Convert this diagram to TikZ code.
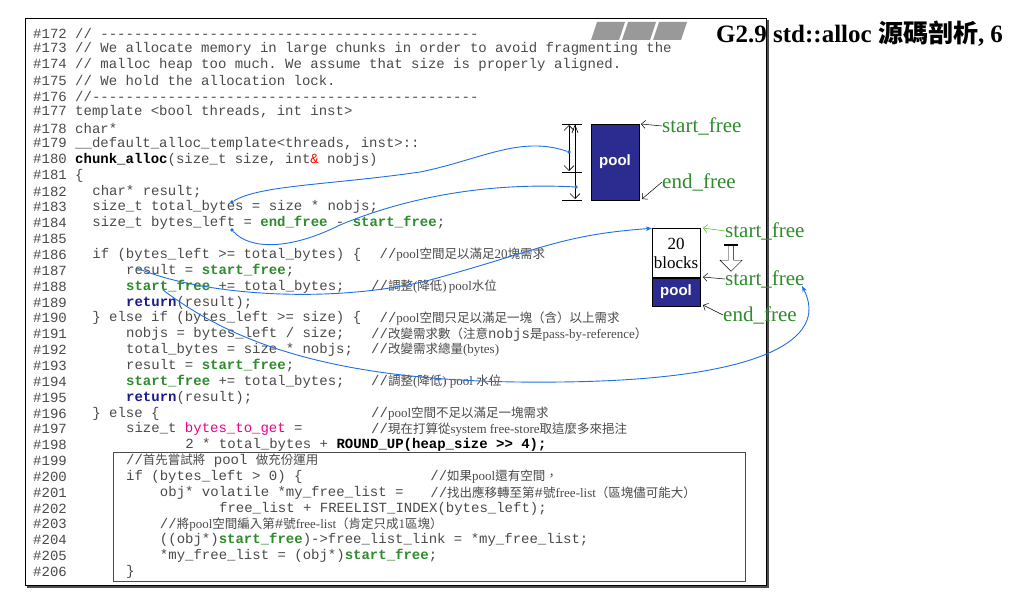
\documentclass[tikz,border=0pt]{standalone}
\usepackage{fontspec}
\setmainfont{Liberation Serif}
\setmonofont{Liberation Mono}
\setsansfont{Liberation Sans}
\newfontfamily\cjkf{Noto Sans CJK TC}
\usetikzlibrary{arrows.meta,shapes.arrows}
\definecolor{cgray}{HTML}{4A4A4A}
\definecolor{cgreen}{HTML}{2E8B2E}
\definecolor{cnavy}{HTML}{2B2B90}
\definecolor{cblue}{HTML}{1E6FE0}
\definecolor{ckw}{HTML}{1A1A8A}
\newcommand\gr[1]{\textcolor{cgreen}{\bfseries #1}}
\newcommand\kwd[1]{\textcolor{ckw}{\bfseries #1}}
\newcommand\cjt[1]{{\cjkf\fontsize{12.5}{12}\selectfont #1}}
\newcommand\srf[1]{{\rmfamily\fontsize{13}{12}\selectfont #1}}
\newcommand\cl[3]{\node[code] at ({33+8.45*#2},{33+15.85*(#1-172)}) {#3};}
\begin{document}
\begin{tikzpicture}[x=1pt,y=-1pt,
  code/.style={anchor=west,inner sep=0pt,font=\ttfamily\fontsize{14}{14}\selectfont,text=cgray},
  lbl/.style={anchor=west,inner sep=0pt,font=\rmfamily\fontsize{21}{21}\selectfont,text=cgreen},
  blk/.style={draw=black,fill=cnavy,text=white,font=\sffamily\bfseries\fontsize{15}{15}\selectfont,inner sep=0pt},
  cur/.style={cblue,line width=0.9pt},
  dot/.style={circle,fill=cblue,inner sep=1.3pt},
  pt/.style={-{Straight Barb[length=4pt]},line width=0.5pt}]
\useasboundingbox (0,0) rectangle (1035,599);
% frame
\draw[line width=0.6pt] (25,18) rectangle (766,585);
\draw[line width=1.6pt,black!70] (27,587) -- (768,587) -- (768,20);
% gray tabs
\foreach \i in {0,1,2}{
  \fill[gray!80] ({597+31*\i},22) -- ({625+31*\i},22) -- ({619+31*\i},40) -- ({591+31*\i},40) -- cycle;}
\node[anchor=west,inner sep=0pt,font=\rmfamily\bfseries\fontsize{25}{25}\selectfont] (title) at (716,34) {G2.9 std::alloc {\cjkf\bfseries 源碼剖析}, 6};
% code
\cl{172}{0}{\#172 // ---------------------------------------------}
\cl{173}{0}{\#173 // We allocate memory in large chunks in order to avoid fragmenting the}
\cl{174}{0}{\#174 // malloc heap too much. We assume that size is properly aligned.}
\cl{175}{0}{\#175 // We hold the allocation lock.}
\cl{176}{0}{\#176 //----------------------------------------------}
\cl{177}{0}{\#177 template <bool threads, int inst>}
\cl{178}{0}{\#178 char*}
\cl{179}{0}{\#179 \_\_default\_alloc\_template<threads, inst>::}
\cl{180}{0}{\#180 \textcolor{black}{\bfseries chunk\_alloc}(size\_t size, int\textcolor{red}{\&} nobjs)}
\cl{181}{0}{\#181 \{}
\foreach \r in {182,...,198}{\cl{\r}{0}{\#\r}}
\cl{182}{7}{char* result;}
\cl{183}{7}{size\_t total\_bytes = size * nobjs;}
\cl{184}{7}{size\_t bytes\_left = \gr{end\_free} - \gr{start\_free};}
\cl{186}{7}{if (bytes\_left >= total\_bytes) \{}
\cl{186}{41}{//\srf{pool}\cjt{空間足以滿足}\srf{20}\cjt{塊需求}}
\cl{187}{11}{result = \gr{start\_free};}
\cl{188}{11}{\gr{start\_free} += total\_bytes;}
\cl{188}{40}{//\cjt{調整}\srf{(}\cjt{降低}\srf{)\,pool}\cjt{水位}}
\cl{189}{11}{\kwd{return}(result);}
\cl{190}{7}{\} else if (bytes\_left >= size) \{}
\cl{190}{41}{//\srf{pool}\cjt{空間只足以滿足一塊（含）以上需求}}
\cl{191}{11}{nobjs = bytes\_left / size;}
\cl{191}{40}{//\cjt{改變需求數（注意}nobjs\cjt{是}\srf{pass-by-reference}\cjt{）}}
\cl{192}{11}{total\_bytes = size * nobjs;}
\cl{192}{40}{//\cjt{改變需求總量}\srf{(bytes)}}
\cl{193}{11}{result = \gr{start\_free};}
\cl{194}{11}{\gr{start\_free} += total\_bytes;}
\cl{194}{40}{//\cjt{調整}\srf{(}\cjt{降低}\srf{) pool }\cjt{水位}}
\cl{195}{11}{\kwd{return}(result);}
\cl{196}{7}{\} else \{}
\cl{196}{40}{//\srf{pool}\cjt{空間不足以滿足一塊需求}}
\cl{197}{11}{size\_t \textcolor{magenta}{bytes\_to\_get} =}
\cl{197}{40}{//\cjt{現在打算從}\srf{system free-store}\cjt{取這麼多來挹注}}
\cl{198}{18}{2 * total\_bytes + \textcolor{black}{\bfseries ROUND\_UP(heap\_size >> 4);}}
\draw[line width=0.6pt,cgray] (113,452) rectangle (745,581);
\foreach \r in {199,...,206}{\cl{\r}{0}{\#\r}}
\cl{199}{11}{//\cjt{首先嘗試將} pool \cjt{做充份運用}}
\cl{200}{11}{if (bytes\_left > 0) \{}
\cl{200}{47}{//\cjt{如果}\srf{pool}\cjt{還有空間，}}
\cl{201}{15}{obj* volatile *my\_free\_list =}
\cl{201}{47}{//\cjt{找出應移轉至第}\#\cjt{號}\srf{free-list}\cjt{（區塊儘可能大）}}
\cl{202}{22}{free\_list + FREELIST\_INDEX(bytes\_left);}
\cl{203}{15}{//\cjt{將}\srf{pool}\cjt{空間編入第}\#\cjt{號}\srf{free-list}\cjt{（肯定只成}\srf{1}\cjt{區塊）}}
\cl{204}{15}{((obj*)\gr{start\_free})->free\_list\_link = *my\_free\_list;}
\cl{205}{15}{*my\_free\_list = (obj*)\gr{start\_free};}
\cl{206}{11}{\}}
% pool 1
\node[blk,minimum width=48pt,minimum height=76pt] (pool1) at (615,162) {pool};
\foreach \y in {124,172,200}{\draw[line width=0.6pt] (562,\y) -- (582,\y);}
\draw[line width=0.6pt,{Straight Barb[length=5pt]}-{Straight Barb[length=5pt]}] (569,125) -- (569,171);
\draw[line width=0.6pt,-{Straight Barb[length=5pt]}] (575,125) -- (575,199);
\draw[line width=0.6pt] (575,125) -- ++(-3,8) (575,125) -- ++(3,8);
\node[lbl] (sf1) at (662,126) {start\_free};
\node[lbl] (ef1) at (662,182) {end\_free};
\draw[pt] (sf1.west) -- (641,124);
\draw[pt] (ef1.west) -- (642,199);
\node[dot] (d1) at (569,152) {};
\node[dot] (d2) at (576,187) {};
\node[dot] (d3) at (232,202) {};
\node[dot] (d4) at (232,230) {};
\draw[cur] (d1) .. controls (520,135) and (480,160) .. (420,172) .. controls (330,185) and (260,185) .. (d3);
\draw[cur] (d2) .. controls (480,182) and (400,200) .. (340,225) .. controls (290,250) and (250,250) .. (d4);
% pool 2
\node[draw=black,fill=white,minimum width=48pt,minimum height=49pt,inner sep=0pt,align=center,font=\rmfamily\fontsize{17}{19}\selectfont] (blocks) at (676,253) {20\\blocks};
\node[blk,minimum width=48pt,minimum height=28pt,anchor=north] (pool2) at (blocks.south) {pool};
\node[lbl] (sf2) at (725,231) {start\_free};
\node[lbl] (sf3) at (725,279) {start\_free};
\node[lbl] (ef2) at (723,315) {end\_free};
\draw[pt,draw=green!50!olive] (sf2.west) -- (703,228);
\draw[pt] (sf3.west) -- (703,277);
\draw[pt] (ef2.west) -- (703,305);
\node[draw=black,fill=white,single arrow,shape border rotate=270,minimum width=22pt,single arrow head extend=4pt,minimum height=26pt,inner sep=1pt] (dn) at (731,257) {};
\draw[line width=1.5pt] (724,245) -- (738,245);
\coordinate (r1) at (137,268);
\coordinate (s1) at (163,290);
\draw[cur,-{Stealth[length=6pt]}] (r1) .. controls (200,295) and (330,305) .. (430,280) .. controls (540,250) and (560,235) .. (blocks.north west);
\draw[cur,-{Stealth[length=6pt]}] (s1) .. controls (230,340) and (330,385) .. (560,382) .. controls (760,380) and (830,340) .. (802,286);
\end{tikzpicture}
\end{document}
